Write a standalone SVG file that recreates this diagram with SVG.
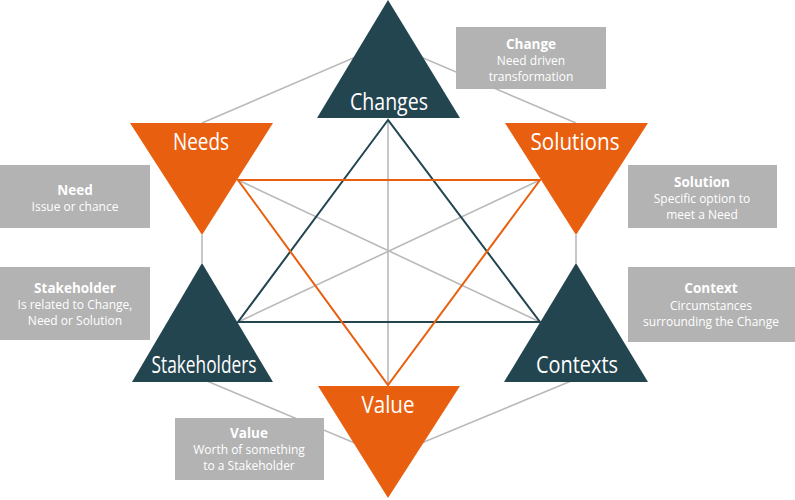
<svg xmlns="http://www.w3.org/2000/svg" width="795" height="500" viewBox="0 0 795 500">
<style>
.gl{stroke:#b9b9b9;stroke-width:1.6;fill:none}
.dl{stroke:#234550;stroke-width:2;fill:none}
.ol{stroke:#e8600f;stroke-width:2;fill:none}
.dark{fill:#234550}
.orange{fill:#e8600f}
.box{fill:#b3b3b3}
.tl{font-family:"Open Sans","Noto Sans",sans-serif;font-size:24px;fill:#ffffff;text-anchor:middle}
.bt{font-family:"Open Sans","Noto Sans",sans-serif;font-size:13.5px;font-weight:bold;fill:#ffffff;text-anchor:middle}
.bd{font-family:"Open Sans","Noto Sans",sans-serif;font-size:12px;fill:#ffffff;text-anchor:middle}
</style>
<rect width="795" height="500" fill="#ffffff"/>
<g id="connectors">
<polyline class="gl" points="202,123 388,43 576,123"/>
<polyline class="gl" points="202,379 388,457 576,379"/>
<line class="gl" x1="202" y1="235" x2="202" y2="263"/>
<line class="gl" x1="576" y1="235" x2="576" y2="263"/>
<line class="gl" x1="388" y1="120" x2="388" y2="385"/>
<line class="gl" x1="238" y1="180" x2="540" y2="322"/>
<line class="gl" x1="540" y1="180" x2="238" y2="322"/>
<polygon class="dl" points="388,120 238,322 540,322"/>
<polygon class="ol" points="238,180 540,180 388,385"/>
</g>
<g id="changes">
<polygon class="dark" points="388,0 317,118 460,118"/>
<text class="tl" x="389" y="110" textLength="78" lengthAdjust="spacingAndGlyphs">Changes</text>
</g>
<g id="needs">
<polygon class="orange" points="130,123 273,123 202,235"/>
<text class="tl" x="201" y="150" textLength="56" lengthAdjust="spacingAndGlyphs">Needs</text>
</g>
<g id="solutions">
<polygon class="orange" points="505,123 648,123 576,235"/>
<text class="tl" x="575" y="150" textLength="89" lengthAdjust="spacingAndGlyphs">Solutions</text>
</g>
<g id="stakeholders">
<polygon class="dark" points="202,263 132,382 273,382"/>
<text class="tl" x="204" y="373" textLength="105" lengthAdjust="spacingAndGlyphs">Stakeholders</text>
</g>
<g id="contexts">
<polygon class="dark" points="576,263 504,382 648,382"/>
<text class="tl" x="577" y="373" textLength="82" lengthAdjust="spacingAndGlyphs">Contexts</text>
</g>
<g id="value">
<polygon class="orange" points="318,386 460,386 388,498"/>
<text class="tl" x="388" y="413" textLength="53" lengthAdjust="spacingAndGlyphs">Value</text>
</g>
<g id="box-change">
<rect class="box" x="456" y="27" width="150" height="62"/>
<text class="bt" x="531" y="49">Change</text>
<text class="bd" x="531" y="65">Need driven</text>
<text class="bd" x="531" y="81">transformation</text>
</g>
<g id="box-need">
<rect class="box" x="0" y="165" width="150" height="63"/>
<text class="bt" x="75" y="195">Need</text>
<text class="bd" x="75" y="211">Issue or chance</text>
</g>
<g id="box-stakeholder">
<rect class="box" x="0" y="267" width="150" height="73"/>
<text class="bt" x="75" y="293">Stakeholder</text>
<text class="bd" x="75" y="309">Is related to Change,</text>
<text class="bd" x="75" y="325">Need or Solution</text>
</g>
<g id="box-solution">
<rect class="box" x="628" y="165" width="149" height="63"/>
<text class="bt" x="702" y="187">Solution</text>
<text class="bd" x="702" y="203">Specific option to</text>
<text class="bd" x="702" y="219">meet a Need</text>
</g>
<g id="box-context">
<rect class="box" x="628" y="267" width="167" height="75"/>
<text class="bt" x="711" y="293">Context</text>
<text class="bd" x="711" y="310">Circumstances</text>
<text class="bd" x="711" y="326">surrounding the Change</text>
</g>
<g id="box-value">
<rect class="box" x="175" y="418" width="149" height="62"/>
<text class="bt" x="249" y="438">Value</text>
<text class="bd" x="249" y="454">Worth of something</text>
<text class="bd" x="249" y="470">to a Stakeholder</text>
</g>
</svg>
